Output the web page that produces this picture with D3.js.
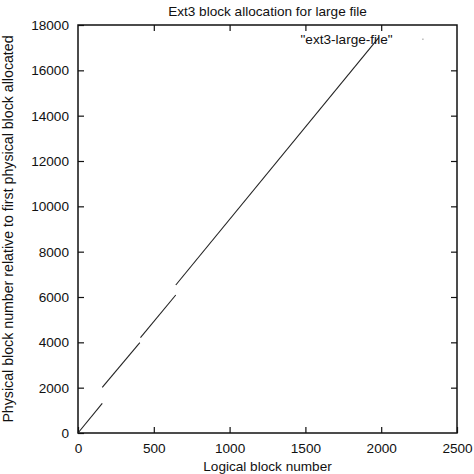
<!DOCTYPE html>
<html>
<head>
<meta charset="UTF-8">
<title>Ext3 block allocation for large file</title>
<style>
  body { margin: 0; background: #fff; }
  text { font-family: "Liberation Sans", Arial, sans-serif; fill: #111; }
</style>
</head>
<body>
<script src="https://d3js.org/d3.v7.min.js"></script>
<script>
  // data: each run of contiguous blocks
  var segLogical = [[0, 160], [160, 408], [412, 645], [645, 1985]];
  var segPhysical = [[0, 1310], [2016, 3983], [4204, 6088], [6530, 17450]];
  var xTicks = [0, 500, 1000, 1500, 2000, 2500];
  var yTicks = [0, 2000, 4000, 6000, 8000, 10000, 12000, 14000, 16000, 18000];
  var seriesName = "\"ext3-large-file\"";

  var margin = { top: 25, right: 17, bottom: 41, left: 78 };
  var width = 474 - margin.left - margin.right,
      height = 474 - margin.top - margin.bottom;
  var fs = "13.6px";

  var root = d3.select("body").append("svg")
    .attr("width", 474)
    .attr("height", 474);

  var svg = root.append("g")
    .attr("transform", "translate(" + margin.left + "," + margin.top + ")");

  var x = d3.scaleLinear().domain([0, 2500]).range([0, width]);
  var y = d3.scaleLinear().domain([0, 18000]).range([height, 0]);

  // axes, gnuplot style: inward ticks mirrored on all four sides
  function strip(g) {
    g.select(".domain").remove();
    g.selectAll(".tick line").attr("stroke", "#111").attr("stroke-width", 1.2);
    g.selectAll(".tick text").style("font-size", fs).attr("fill", "#111");
  }

  svg.append("g")
    .attr("transform", "translate(0," + height + ")")
    .call(d3.axisBottom(x).tickValues(xTicks).tickSize(-6).tickPadding(10).tickFormat(d3.format("d")))
    .call(strip);

  svg.append("g")
    .call(d3.axisLeft(y).tickValues(yTicks).tickSize(-6).tickPadding(9).tickFormat(d3.format("d")))
    .call(strip);

  svg.append("g")
    .call(d3.axisTop(x).tickValues(xTicks.slice(1, -1)).tickSize(-6).tickFormat(""))
    .call(strip);

  svg.append("g")
    .attr("transform", "translate(" + width + ",0)")
    .call(d3.axisRight(y).tickValues(yTicks.slice(1, -1)).tickSize(-6).tickFormat(""))
    .call(strip);

  svg.append("rect")
    .attr("width", width)
    .attr("height", height)
    .attr("fill", "none")
    .attr("stroke", "#111")
    .attr("stroke-width", 1.5);

  // the block runs
  var line = d3.line()
    .x(function(d) { return x(d[0]); })
    .y(function(d) { return y(d[1]); });

  svg.selectAll("path.run")
    .data(segLogical.map(function(s, i) {
      return [[s[0], segPhysical[i][0]], [s[1], segPhysical[i][1]]];
    }))
    .enter()
    .append("path")
    .attr("class", "run")
    .attr("d", line)
    .attr("fill", "none")
    .attr("stroke", "#222")
    .attr("stroke-width", 1.1);

  // key
  svg.append("text")
    .attr("x", x(2075))
    .attr("y", 19)
    .attr("text-anchor", "end")
    .style("font-size", fs)
    .text(seriesName);

  svg.append("rect")
    .attr("x", x(2270))
    .attr("y", 13.5)
    .attr("width", 1.5)
    .attr("height", 1.5)
    .attr("fill", "#bbb");

  // titles
  root.append("text")
    .attr("x", margin.left + width / 2)
    .attr("y", 16)
    .attr("text-anchor", "middle")
    .style("font-size", fs)
    .text("Ext3 block allocation for large file");

  root.append("text")
    .attr("x", margin.left + width / 2)
    .attr("y", 471)
    .attr("text-anchor", "middle")
    .style("font-size", fs)
    .text("Logical block number");

  root.append("text")
    .attr("transform", "translate(13," + (margin.top + height / 2) + ") rotate(-90)")
    .attr("text-anchor", "middle")
    .style("font-size", "14.2px")
    .text("Physical block number relative to first physical block allocated");
</script>
</body>
</html>
